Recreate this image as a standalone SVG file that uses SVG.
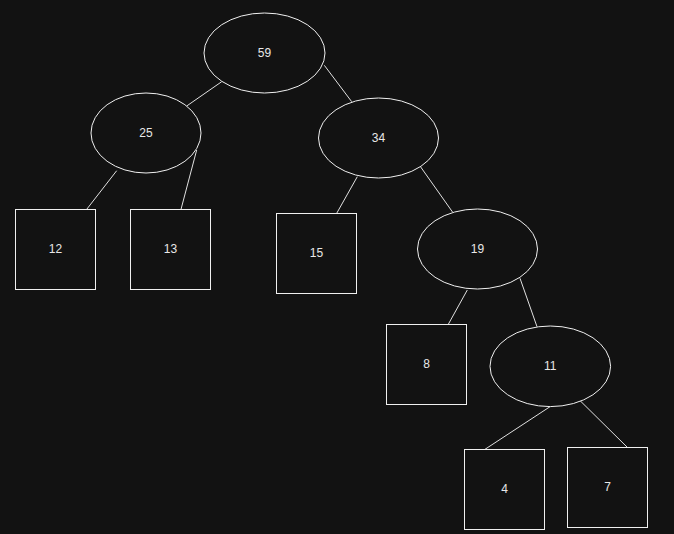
<svg xmlns="http://www.w3.org/2000/svg" width="674" height="534" viewBox="0 0 674 534">
<style>
.n{fill:#121212;stroke:#f0f0f0;stroke-width:1}
.t{fill:#e8e8e8;font-family:"Liberation Sans",Arial,sans-serif;font-size:12px;text-anchor:middle;dominant-baseline:central}
.c line{stroke:#e0e0e0;stroke-width:1}
</style>
<rect width="674" height="534" fill="#121212"/>
<g class="c" id="connectors">
<line x1="221.7" y1="81.7" x2="186.7" y2="106"/>
<line x1="324.3" y1="65.3" x2="351.7" y2="101.7"/>
<line x1="116.7" y1="170.7" x2="86.7" y2="209.3"/>
<line x1="196.7" y1="150" x2="181" y2="209.3"/>
<line x1="357.3" y1="176.7" x2="336.7" y2="213.3"/>
<line x1="420" y1="166" x2="452.5" y2="212"/>
<line x1="467.3" y1="290" x2="448.3" y2="324.3"/>
<line x1="520" y1="278.3" x2="537" y2="326.7"/>
<line x1="550" y1="406.7" x2="485" y2="449.3"/>
<line x1="578.7" y1="399.3" x2="627.3" y2="447.3"/>
</g>
<g id="n59"><ellipse class="n" cx="264.5" cy="53" rx="60.5" ry="40"/><text class="t" x="264.5" y="53">59</text></g>
<g id="n25"><ellipse class="n" cx="146" cy="133" rx="55" ry="40"/><text class="t" x="146" y="133">25</text></g>
<g id="n34"><ellipse class="n" cx="378.5" cy="138" rx="60" ry="40"/><text class="t" x="378.5" y="138">34</text></g>
<g id="n19"><ellipse class="n" cx="477.5" cy="249" rx="60" ry="40"/><text class="t" x="477.5" y="249">19</text></g>
<g id="n11"><ellipse class="n" cx="550.3" cy="366.3" rx="60.3" ry="40.3"/><text class="t" x="550.3" y="366">11</text></g>
<g id="n12"><rect class="n" x="15.5" y="209.5" width="80" height="80"/><text class="t" x="55.5" y="249">12</text></g>
<g id="n13"><rect class="n" x="130.5" y="209.5" width="80" height="80"/><text class="t" x="170.5" y="249">13</text></g>
<g id="n15"><rect class="n" x="276.5" y="213.5" width="80" height="80"/><text class="t" x="316.5" y="253">15</text></g>
<g id="n8"><rect class="n" x="386.5" y="324.5" width="80" height="80"/><text class="t" x="426.5" y="364">8</text></g>
<g id="n4"><rect class="n" x="464.5" y="449.5" width="80" height="80"/><text class="t" x="504.5" y="489">4</text></g>
<g id="n7"><rect class="n" x="567.5" y="447.5" width="80" height="80"/><text class="t" x="607.5" y="487">7</text></g>
</svg>
